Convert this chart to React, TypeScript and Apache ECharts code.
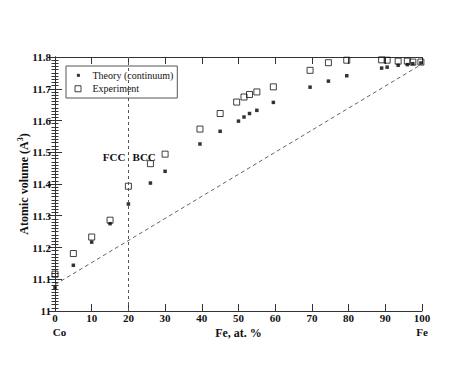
import React, { useEffect, useRef } from "react";
import * as echarts from "echarts";

const theoryX = [0, 5, 10, 15, 20, 26, 30, 39.5, 45, 50, 51.5, 53, 55, 59.5, 69.5, 74.5, 79.5, 89, 90.5, 93.5, 96, 97.5, 99.7];
const theoryY = [11.074, 11.144, 11.217, 11.275, 11.337, 11.403, 11.44, 11.526, 11.566, 11.598, 11.611, 11.622, 11.632, 11.657, 11.705, 11.724, 11.741, 11.765, 11.768, 11.774, 11.776, 11.779, 11.781];
const expX = [0, 5, 10, 15, 20, 26, 30, 39.5, 45, 49.5, 51.5, 53, 55, 59.5, 69.5, 74.5, 79.5, 89, 90.5, 93.5, 96, 97.5, 99.7];
const expY = [11.116, 11.181, 11.233, 11.286, 11.393, 11.464, 11.494, 11.573, 11.622, 11.658, 11.674, 11.682, 11.69, 11.706, 11.758, 11.782, 11.79, 11.791, 11.79, 11.787, 11.787, 11.784, 11.784];
const diagX = [0, 100];
const diagY = [11.083, 11.778];
const phaseBoundary = 20;
const phaseLabels = [
  { name: "FCC", x: 16.1, y: 11.484 },
  { name: "BCC", x: 24.3, y: 11.484 },
];
const xTicks = { min: 0, max: 100, interval: 10 };
const yTicks = { min: 11, max: 11.8, interval: 0.1 };

const FONT = "'Liberation Serif', 'Times New Roman', serif";

export default function App() {
  const ref = useRef<HTMLDivElement>(null);
  useEffect(() => {
    if (!ref.current) return;
    const chart = echarts.init(ref.current, null, { renderer: "svg" });
    const axisLineStyle = { color: "#333", width: 1 };
    const option: any = {
      animation: false,
      backgroundColor: "#fff",
      textStyle: { fontFamily: FONT },
      grid: { left: 55, right: 52, top: 57, bottom: 55 },
      legend: {
        orient: "vertical",
        left: 66,
        top: 66,
        padding: [4, 4, 4, 5],
        itemGap: 3,
        itemWidth: 16,
        itemHeight: 8,
        borderColor: "#555",
        borderWidth: 1,
        itemStyle: { borderWidth: 1 },
        textStyle: { fontFamily: FONT, fontSize: 10, fontWeight: "normal", color: "#111", lineHeight: 10.5 },
        data: [
          { name: "Theory (continuum)", icon: "path://M0 0M16 8M5.4 2.6h3v3h-3z" },
          { name: "Experiment", icon: "path://M0 0M16 8M3.5 1h6v6h-6z" },
        ],
      },
      xAxis: [
        {
          type: "value",
          min: xTicks.min,
          max: xTicks.max,
          interval: xTicks.interval,
          position: "bottom",
          name: "Fe, at. %",
          nameLocation: "middle",
          nameGap: 16,
          nameMoveOverlap: false,
          nameTextStyle: { fontFamily: FONT, fontSize: 12, fontWeight: "bold", color: "#111" },
          axisLine: { lineStyle: axisLineStyle },
          axisTick: { inside: true, length: 7, lineStyle: axisLineStyle },
          splitLine: { show: false },
          axisLabel: {
            margin: 0,
            fontFamily: FONT,
            fontSize: 11,
            fontWeight: "bold",
            color: "#111",
            formatter: (v: number) =>
              v === 0 ? "{n|0}\n{co|Co}" : v === 100 ? "{n|100}\n{fe|Fe}" : "{n|" + v + "}",
            rich: {
              n: { fontFamily: FONT, fontSize: 11, fontWeight: "bold", color: "#111", lineHeight: 14 },
              co: { fontFamily: FONT, fontSize: 11, fontWeight: "bold", color: "#111", lineHeight: 14, padding: [0, 0, 0, 9] },
              fe: { fontFamily: FONT, fontSize: 11, fontWeight: "bold", color: "#111", lineHeight: 14 },
            },
          },
        },
        {
          type: "value",
          min: xTicks.min,
          max: xTicks.max,
          interval: xTicks.interval,
          position: "top",
          axisLine: { lineStyle: axisLineStyle },
          axisTick: { inside: true, length: 7, lineStyle: axisLineStyle },
          axisLabel: { show: false },
          splitLine: { show: false },
        },
      ],
      yAxis: [
        {
          type: "value",
          min: yTicks.min,
          max: yTicks.max,
          interval: yTicks.interval,
          position: "left",
          name: "{a|Atomic volume (A}{s|3}{a|)}",
          nameLocation: "middle",
          nameGap: 23,
          nameMoveOverlap: false,
          nameRotate: 90,
          nameTextStyle: {
            rich: {
              a: { fontFamily: FONT, fontSize: 12, fontWeight: "bold", color: "#111" },
              s: { fontFamily: FONT, fontSize: 8, fontWeight: "bold", color: "#111", padding: [0, 0, 8, 0] },
            },
          },
          axisLine: { lineStyle: axisLineStyle },
          axisTick: { inside: true, length: 7, lineStyle: axisLineStyle },
          minorTick: { show: true, splitNumber: 10, length: 3.5, lineStyle: { color: "#333", width: 1 } },
          splitLine: { show: false },
          minorSplitLine: { show: false },
          axisLabel: {
            margin: 4,
            fontFamily: FONT,
            fontSize: 11,
            fontWeight: "bold",
            color: "#111",
            formatter: (v: number) => String(+v.toFixed(1)),
          },
        },
        {
          type: "value",
          min: yTicks.min,
          max: yTicks.max,
          interval: yTicks.interval,
          position: "right",
          axisLine: { lineStyle: axisLineStyle },
          axisTick: { inside: true, length: 7, lineStyle: axisLineStyle },
          minorTick: { show: true, splitNumber: 10, length: 3.5, lineStyle: { color: "#333", width: 1 } },
          splitLine: { show: false },
          axisLabel: { show: false },
        },
      ],
      series: [
        {
          type: "line",
          name: "diag",
          data: diagX.map((x, i) => [x, diagY[i]]),
          symbol: "none",
          lineStyle: { color: "#666", width: 1, type: [4, 3] },
          silent: true,
          markLine: {
            silent: true,
            symbol: "none",
            label: { show: false },
            lineStyle: { color: "#555", width: 1, type: [3, 3] },
            data: [{ xAxis: phaseBoundary }],
          },
          markPoint: {
            symbol: "rect",
            symbolSize: 0,
            label: {
              show: true,
              position: "inside",
              fontFamily: FONT,
              fontSize: 11,
              fontWeight: "bold",
              color: "#111",
              formatter: (p: any) => p.name,
            },
            data: phaseLabels.map((l) => ({ name: l.name, coord: [l.x, l.y] })),
          },
        },
        {
          type: "scatter",
          name: "Experiment",
          data: expX.map((x, i) => [x, expY[i]]),
          symbol: "rect",
          symbolSize: 6,
          itemStyle: { color: "rgba(255,255,255,0)", borderColor: "#111", borderWidth: 1 },
        },
        {
          type: "scatter",
          name: "Theory (continuum)",
          data: theoryX.map((x, i) => [x, theoryY[i]]),
          symbol: "rect",
          symbolSize: 3.5,
          itemStyle: { color: "#000" },
        },
      ],
    };
    chart.setOption(option);
    return () => chart.dispose();
  }, []);
  return (
    <div
      ref={ref}
      style={{ position: "fixed", left: 0, top: 0, width: 474, height: 366 }}
    />
  );
}
